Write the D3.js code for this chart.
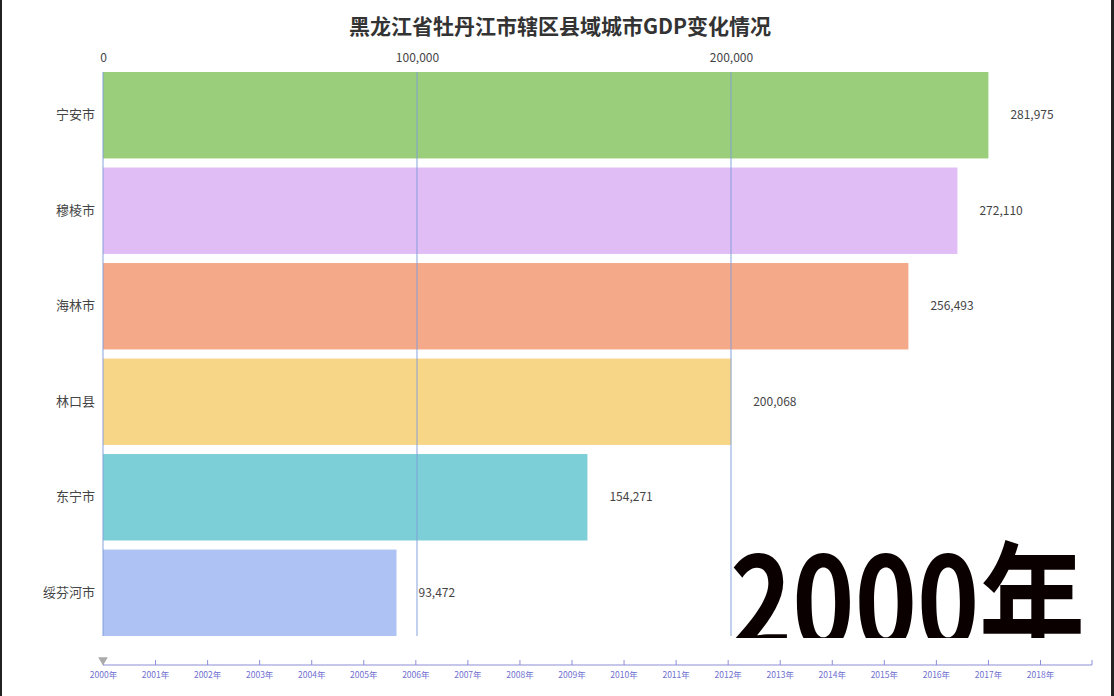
<!DOCTYPE html>
<html>
<head>
<meta charset="utf-8">
<script src="https://cdn.jsdelivr.net/npm/d3@7"></script>
<style>
body { margin: 0; background: #fff; }
text { font-family: "Noto Sans CJK SC", "Noto Sans", sans-serif; }
</style>
</head>
<body>
<svg width="1114" height="696"></svg>
<script>
// data for year 2000
var cities = ["宁安市", "穆棱市", "海林市", "林口县", "东宁市", "绥芬河市"];
var gdp = [281975, 272110, 256493, 200068, 154271, 93472];
var colors = ["#9bce7a", "#e1bdf5", "#f4aa88", "#f7d688", "#7ccfd7", "#aec3f4"];
var years = d3.range(2000, 2019);
var currentYear = 2000;

var margin = {top: 72, right: 26, bottom: 60, left: 103};
var width = 1114 - margin.left - margin.right;
var height = 696 - margin.top - margin.bottom;

var svg = d3.select("svg");

// frame edges
svg.append("rect").attr("x", 0).attr("y", 0).attr("width", 2).attr("height", 696).attr("fill", "#222");
svg.append("rect").attr("x", 1111).attr("y", 0).attr("width", 3).attr("height", 696).attr("fill", "#222");

svg.append("text")
    .attr("x", 560).attr("y", 34)
    .attr("text-anchor", "middle")
    .attr("font-size", 21).attr("font-weight", "bold").attr("fill", "#333")
    .text("黑龙江省牡丹江市辖区县域城市GDP变化情况");

var g = svg.append("g").attr("transform", `translate(${margin.left},${margin.top})`);

var xScale = d3.scaleLinear().domain([0, 100000]).range([0, 314]);
var yScale = d3.scaleBand().domain(cities).range([0, height]).paddingInner(0.095).paddingOuter(0);

g.append("clipPath").attr("id", "clip")
  .append("rect").attr("x", 0).attr("y", 0).attr("width", width).attr("height", height + 2);

// top axis
var xAxis = g.append("g").call(d3.axisTop(xScale).tickValues([0, 100000, 200000]).tickSize(0).tickPadding(10));
xAxis.select(".domain").remove();
xAxis.selectAll("text").attr("font-size", 12).attr("fill", "#444");

// big year label
g.append("text")
    .attr("clip-path", "url(#clip)")
    .attr("x", 627).attr("y", 578)
    .attr("textLength", 355).attr("lengthAdjust", "spacingAndGlyphs")
    .attr("font-size", 128).attr("font-weight", "bold").attr("fill", "#0a0000")
    .text(currentYear + "年");

g.selectAll(".bar")
    .data(cities)
  .enter().append("rect")
    .attr("x", 0)
    .attr("y", function(d) { return yScale(d); })
    .attr("width", function(d, i) { return xScale(gdp[i]); })
    .attr("height", yScale.bandwidth())
    .attr("fill", function(d, i) { return colors[i]; });

// gridlines
g.selectAll(".grid")
    .data([0, 100000, 200000])
  .enter().append("line")
    .attr("x1", function(d) { return xScale(d); }).attr("x2", function(d) { return xScale(d); })
    .attr("y1", 0).attr("y2", height)
    .attr("stroke", "#7f9ed8").attr("stroke-opacity", 0.8).attr("stroke-width", 1.2);

g.selectAll(".val")
    .data(cities)
  .enter().append("text")
    .attr("x", function(d, i) { return xScale(gdp[i]) + 22; })
    .attr("y", function(d) { return yScale(d) + yScale.bandwidth() / 2; })
    .attr("dy", "0.35em")
    .attr("font-size", 12).attr("fill", "#444")
    .text(function(d, i) { return d3.format(",")(gdp[i]); });

var yAxis = g.append("g").call(d3.axisLeft(yScale).tickSize(0).tickPadding(8));
yAxis.select(".domain").remove();
yAxis.selectAll("text").attr("font-size", 13).attr("fill", "#444");

// timeline
var tScale = d3.scaleLinear().domain([2000, 2018]).range([0, 937]);
var tl = g.append("g").attr("transform", `translate(0,${height + 29})`);
tl.append("line").attr("x1", 0).attr("x2", 989).attr("stroke", "#8e8ed8").attr("stroke-width", 1.2);
tl.append("line").attr("x1", 989).attr("x2", 989).attr("y1", 0).attr("y2", -5).attr("stroke", "#8e8ed8");
var tAxis = tl.append("g").call(d3.axisBottom(tScale).tickValues(years).tickSize(-5).tickPadding(7)
    .tickFormat(function(d) { return d + "年"; }));
tAxis.select(".domain").remove();
tAxis.selectAll("line").attr("stroke", "#8e8ed8");
tAxis.selectAll("text").attr("font-size", 8.5).attr("fill", "#6f6fd0");
tl.append("path")
    .attr("d", d3.symbol().type(d3.symbolTriangle).size(40))
    .attr("transform", `translate(${tScale(currentYear)},-5) rotate(180)`)
    .attr("fill", "#aaa");
</script>
</body>
</html>
